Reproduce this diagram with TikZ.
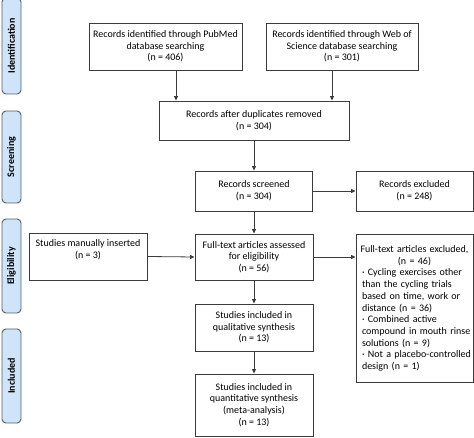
\documentclass[tikz,border=0pt]{standalone}
\usepackage{fontspec}
\setmainfont{Carlito}
\usetikzlibrary{arrows.meta, positioning, calc}
\definecolor{phasefill}{RGB}{207, 228, 248}
\definecolor{phasedraw}{RGB}{85, 95, 105}
\definecolor{boxdraw}{RGB}{60, 60, 60}
\tikzset{
  box/.style={
    draw=boxdraw, line width=0.9pt, fill=white,
    inner sep=2pt, align=center,
    font=\fontsize{10}{11.7}\selectfont
  },
  phase/.style={
    draw=phasedraw, line width=0.9pt, fill=phasefill,
    rounded corners=4pt, minimum height=19pt, rotate=90,
    font=\fontsize{10}{11}\selectfont\bfseries
  },
  arr/.style={-{Triangle[length=4.5pt, width=4pt]}, line width=0.8pt, boxdraw},
}

\begin{document}
\begin{tikzpicture}[x=1pt, y=-1pt]

  \useasboundingbox (0,0) rectangle (474,438);

  % ============ PHASES ============
  \node[phase, minimum width=96pt] (ident) at (11.5, 46)  {Identification};
  \node[phase, minimum width=92pt] (scr)   at (11.5, 157) {Screening};
  \node[phase, minimum width=94pt] (elig)  at (11.5, 266) {Eligibility};
  \node[phase, minimum width=94pt] (incl)  at (11.5, 376) {Included};

  % ============ IDENTIFICATION ============
  \node[box, minimum width=153pt, minimum height=47pt] (pubmed) at (165.5, 46.5)
    {Records identified through PubMed\\database searching\\(n = 406)};
  \node[box, minimum width=152pt, minimum height=47pt] (wos) at (342, 46.5)
    {Records identified through Web of\\Science database searching\\(n = 301)};

  % ============ SCREENING ============
  \node[box, minimum width=190pt, minimum height=39pt] (dup) at (254, 120.5)
    {Records after duplicates removed\\(n = 304)};
  \node[box, minimum width=117pt, minimum height=40pt] (screened) at (254, 191)
    {Records screened\\(n = 304)};
  \node[box, minimum width=117pt, minimum height=40pt] (excl) at (414.5, 191)
    {Records excluded\\(n = 248)};

  % ============ ELIGIBILITY ============
  \node[box, minimum width=118pt, minimum height=47pt] (manual) at (88, 256.5)
    {Studies manually inserted\\(n = 3)\\\strut};
  \node[box, minimum width=118pt, minimum height=46pt] (fulltext) at (254, 257)
    {Full-text articles assessed\\for eligibility\\(n = 56)};
  \node[box, text width=113pt, minimum height=148pt, align=left,
        anchor=north, inner xsep=2pt, inner ysep=6pt] (ftexcl) at (414.5, 234)
    {{\centering Full-text articles excluded,\\(n = 46)\par}
     \leftskip=4pt
     · Cycling exercises other\\
     than the cycling trials\\
     based on time, work or\\
     distance (n = 36)\\
     · Combined active\\
     compound in mouth rinse\\
     solutions (n = 9)\\
     · Not a placebo-controlled\\
     design (n = 1)\par
     \vspace{14pt}};

  % ============ INCLUDED ============
  \node[box, minimum width=118pt, minimum height=47pt] (qual) at (254, 327.5)
    {Studies included in\\qualitative synthesis\\(n = 13)};
  \node[box, minimum width=118pt, minimum height=62pt] (quant) at (254, 405)
    {Studies included in\\quantitative synthesis\\(meta-analysis)\\(n = 13)};

  % ============ ARROWS ============
  \draw[arr] ([xshift=10.5pt]pubmed.south) -- ([xshift=10.5pt]pubmed.south |- dup.north);
  \draw[arr] ([xshift=-10pt]wos.south) -- ([xshift=-10pt]wos.south |- dup.north);
  \draw[arr] (dup) -- (screened);
  \draw[arr] (screened) -- (excl);
  \draw[arr] (screened) -- (fulltext);
  \draw[arr] (manual.east) -- (fulltext.west);
  \draw[arr] (fulltext.east) -- (fulltext.east -| ftexcl.west);
  \draw[arr] (fulltext) -- (qual);
  \draw[arr] (qual) -- (quant);

\end{tikzpicture}
\end{document}
